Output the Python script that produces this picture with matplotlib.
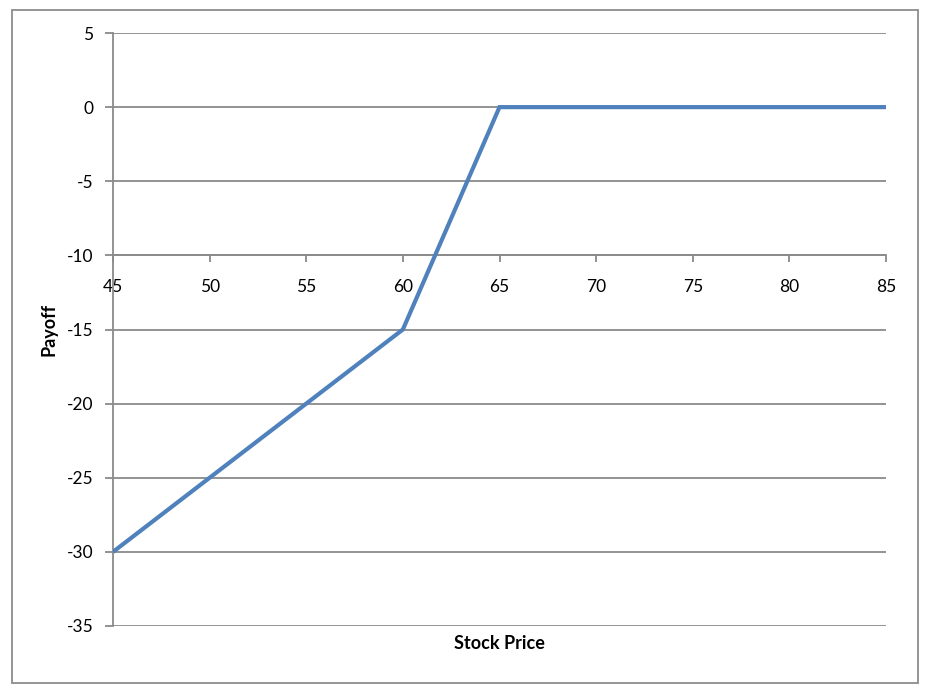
import matplotlib
matplotlib.use("Agg")
import matplotlib.pyplot as plt
from matplotlib.patches import Rectangle

stock_price = [45, 60, 65, 85]
payoff = [-30, -15, 0, 0]
x_ticks = [45, 50, 55, 60, 65, 70, 75, 80, 85]
y_ticks = [5, 0, -5, -10, -15, -20, -25, -30, -35]

plt.rcParams['font.family'] = ['Lato', 'DejaVu Sans']
plt.rcParams['axes.unicode_minus'] = False

fig = plt.figure(figsize=(9.3, 6.9), dpi=100)
fig.patches.append(Rectangle((12/930, 1-683/690), (918-12)/930, (683-10)/690,
                             transform=fig.transFigure, fill=False,
                             edgecolor='#8c8c8c', linewidth=1.3))
ax = fig.add_axes([113/930, 1-626/690, (886-113)/930, (626-33)/690])

grid_c = '#8a8a8a'
ax.set_xlim(45, 85)
ax.set_ylim(-35, 5)
ax.set_yticks(y_ticks)
ax.set_xticks(x_ticks)
ax.yaxis.grid(True, color=grid_c, linewidth=1.3)
ax.set_axisbelow(True)

ax.plot(stock_price, payoff, color='#4F81BD', linewidth=3, solid_capstyle='butt',
        solid_joinstyle='miter', zorder=3)

for s in ['top', 'right']:
    ax.spines[s].set_visible(False)
ax.spines['left'].set_color(grid_c)
ax.spines['left'].set_linewidth(1.3)
ax.spines['bottom'].set_position(('data', -10))
ax.spines['bottom'].set_color(grid_c)
ax.spines['bottom'].set_linewidth(1.3)

ax.tick_params(axis='y', direction='out', length=6, width=1.3, color=grid_c,
               labelsize=12.5, pad=8)
ax.tick_params(axis='x', direction='out', length=5, width=1.3, color=grid_c,
               labelsize=12.5, pad=12)

ax.text(-0.083, 0.5, 'Payoff', transform=ax.transAxes, ha='center', va='center',
        rotation=90, fontsize=13, fontweight='bold')
ax.text(0.5, -0.015, 'Stock Price', transform=ax.transAxes, ha='center', va='top',
        fontsize=13, fontweight='bold')

fig.savefig('out.png', dpi=100)
